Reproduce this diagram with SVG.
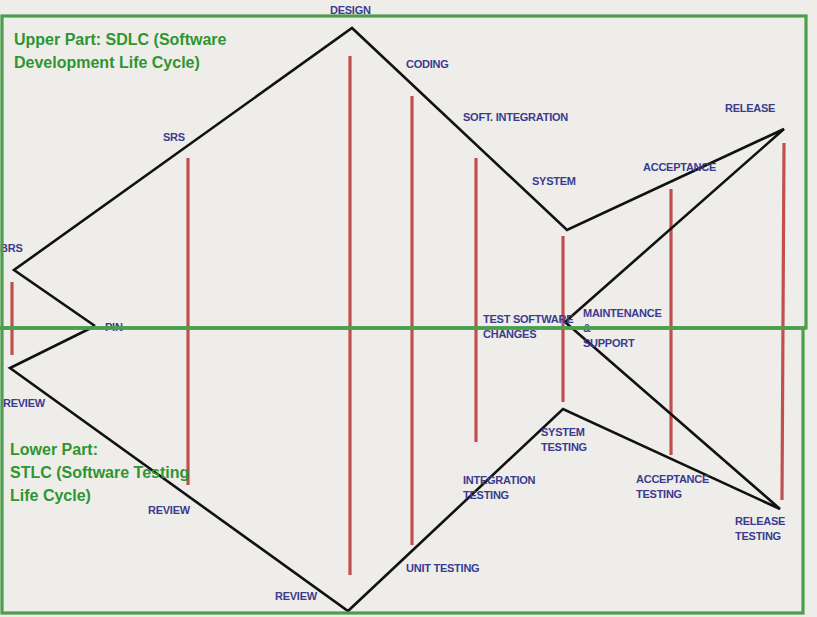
<svg xmlns="http://www.w3.org/2000/svg" width="817" height="617" viewBox="0 0 817 617">
<style>
.bg{fill:#eeedea}
.fish{fill:none;stroke:#111;stroke-width:2.6;stroke-linejoin:miter}
.bone{stroke:#c0504d;stroke-width:3.2}
.box{fill:none;stroke:#4a9e4c;stroke-width:3.2}
.lbl{font-family:"Liberation Sans",Arial,sans-serif;font-weight:bold;font-size:11px;letter-spacing:-0.25px;fill:#3b3b8e}
.ttl{font-family:"Liberation Sans",Arial,sans-serif;font-weight:bold;font-size:16px;fill:#2f952f}
</style>
<rect class="bg" x="0" y="0" width="817" height="617"/>
<g id="bones">
<line class="bone" x1="12" y1="282" x2="12" y2="355"/>
<line class="bone" x1="188" y1="158" x2="188" y2="485"/>
<line class="bone" x1="350" y1="56" x2="350" y2="575"/>
<line class="bone" x1="412" y1="96" x2="412" y2="545"/>
<line class="bone" x1="476" y1="158" x2="476" y2="442"/>
<line class="bone" x1="563" y1="236" x2="563" y2="402"/>
<line class="bone" x1="671" y1="189" x2="671" y2="455"/>
<line class="bone" x1="784" y1="143" x2="782" y2="500"/>
</g>
<g id="connectors">
<polyline class="fish" points="95,326 14,270 352,28 567,230 784,129 565,322 780,509 563,409 348,611 10,368 95,326"/>
</g>
<g id="upper-labels">
<g id="n-design"><text class="lbl" x="330" y="14">DESIGN</text></g>
<g id="n-coding"><text class="lbl" x="406" y="68">CODING</text></g>
<g id="n-softint"><text class="lbl" x="463" y="121">SOFT. INTEGRATION</text></g>
<g id="n-system"><text class="lbl" x="532" y="185">SYSTEM</text></g>
<g id="n-srs"><text class="lbl" x="163" y="141">SRS</text></g>
<g id="n-brs"><text class="lbl" x="0" y="252">BRS</text></g>
<g id="n-pin"><text class="lbl" x="105" y="331">PIN</text></g>
<g id="n-release"><text class="lbl" x="725" y="112">RELEASE</text></g>
<g id="n-acceptance"><text class="lbl" x="643" y="171">ACCEPTANCE</text></g>
<g id="n-testsw"><text class="lbl" x="483" y="323">TEST SOFTWARE</text><text class="lbl" x="483" y="338">CHANGES</text></g>
<g id="n-maint"><text class="lbl" x="583" y="317">MAINTENANCE</text><text class="lbl" x="583" y="332">&amp;</text><text class="lbl" x="583" y="347">SUPPORT</text></g>
</g>
<g id="lower-labels">
<g id="n-review1"><text class="lbl" x="3" y="407">REVIEW</text></g>
<g id="n-review2"><text class="lbl" x="148" y="514">REVIEW</text></g>
<g id="n-review3"><text class="lbl" x="275" y="600">REVIEW</text></g>
<g id="n-unit"><text class="lbl" x="406" y="572">UNIT TESTING</text></g>
<g id="n-inttest"><text class="lbl" x="463" y="484">INTEGRATION</text><text class="lbl" x="463" y="499">TESTING</text></g>
<g id="n-systest"><text class="lbl" x="541" y="436">SYSTEM</text><text class="lbl" x="541" y="451">TESTING</text></g>
<g id="n-acctest"><text class="lbl" x="636" y="483">ACCEPTANCE</text><text class="lbl" x="636" y="498">TESTING</text></g>
<g id="n-reltest"><text class="lbl" x="735" y="525">RELEASE</text><text class="lbl" x="735" y="540">TESTING</text></g>
</g>
<g id="frames">
<rect class="box" x="2" y="16" width="804" height="312"/>
<rect class="box" x="2" y="328" width="801" height="285"/>
<line class="box" x1="0" y1="328" x2="806" y2="328"/>
</g>
<g id="titles">
<text class="ttl" x="14" y="45">Upper Part: SDLC (Software</text>
<text class="ttl" x="14" y="68">Development Life Cycle)</text>
<text class="ttl" x="10" y="455">Lower Part:</text>
<text class="ttl" x="10" y="478">STLC (Software Testing</text>
<text class="ttl" x="10" y="501">Life Cycle)</text>
</g>
</svg>
